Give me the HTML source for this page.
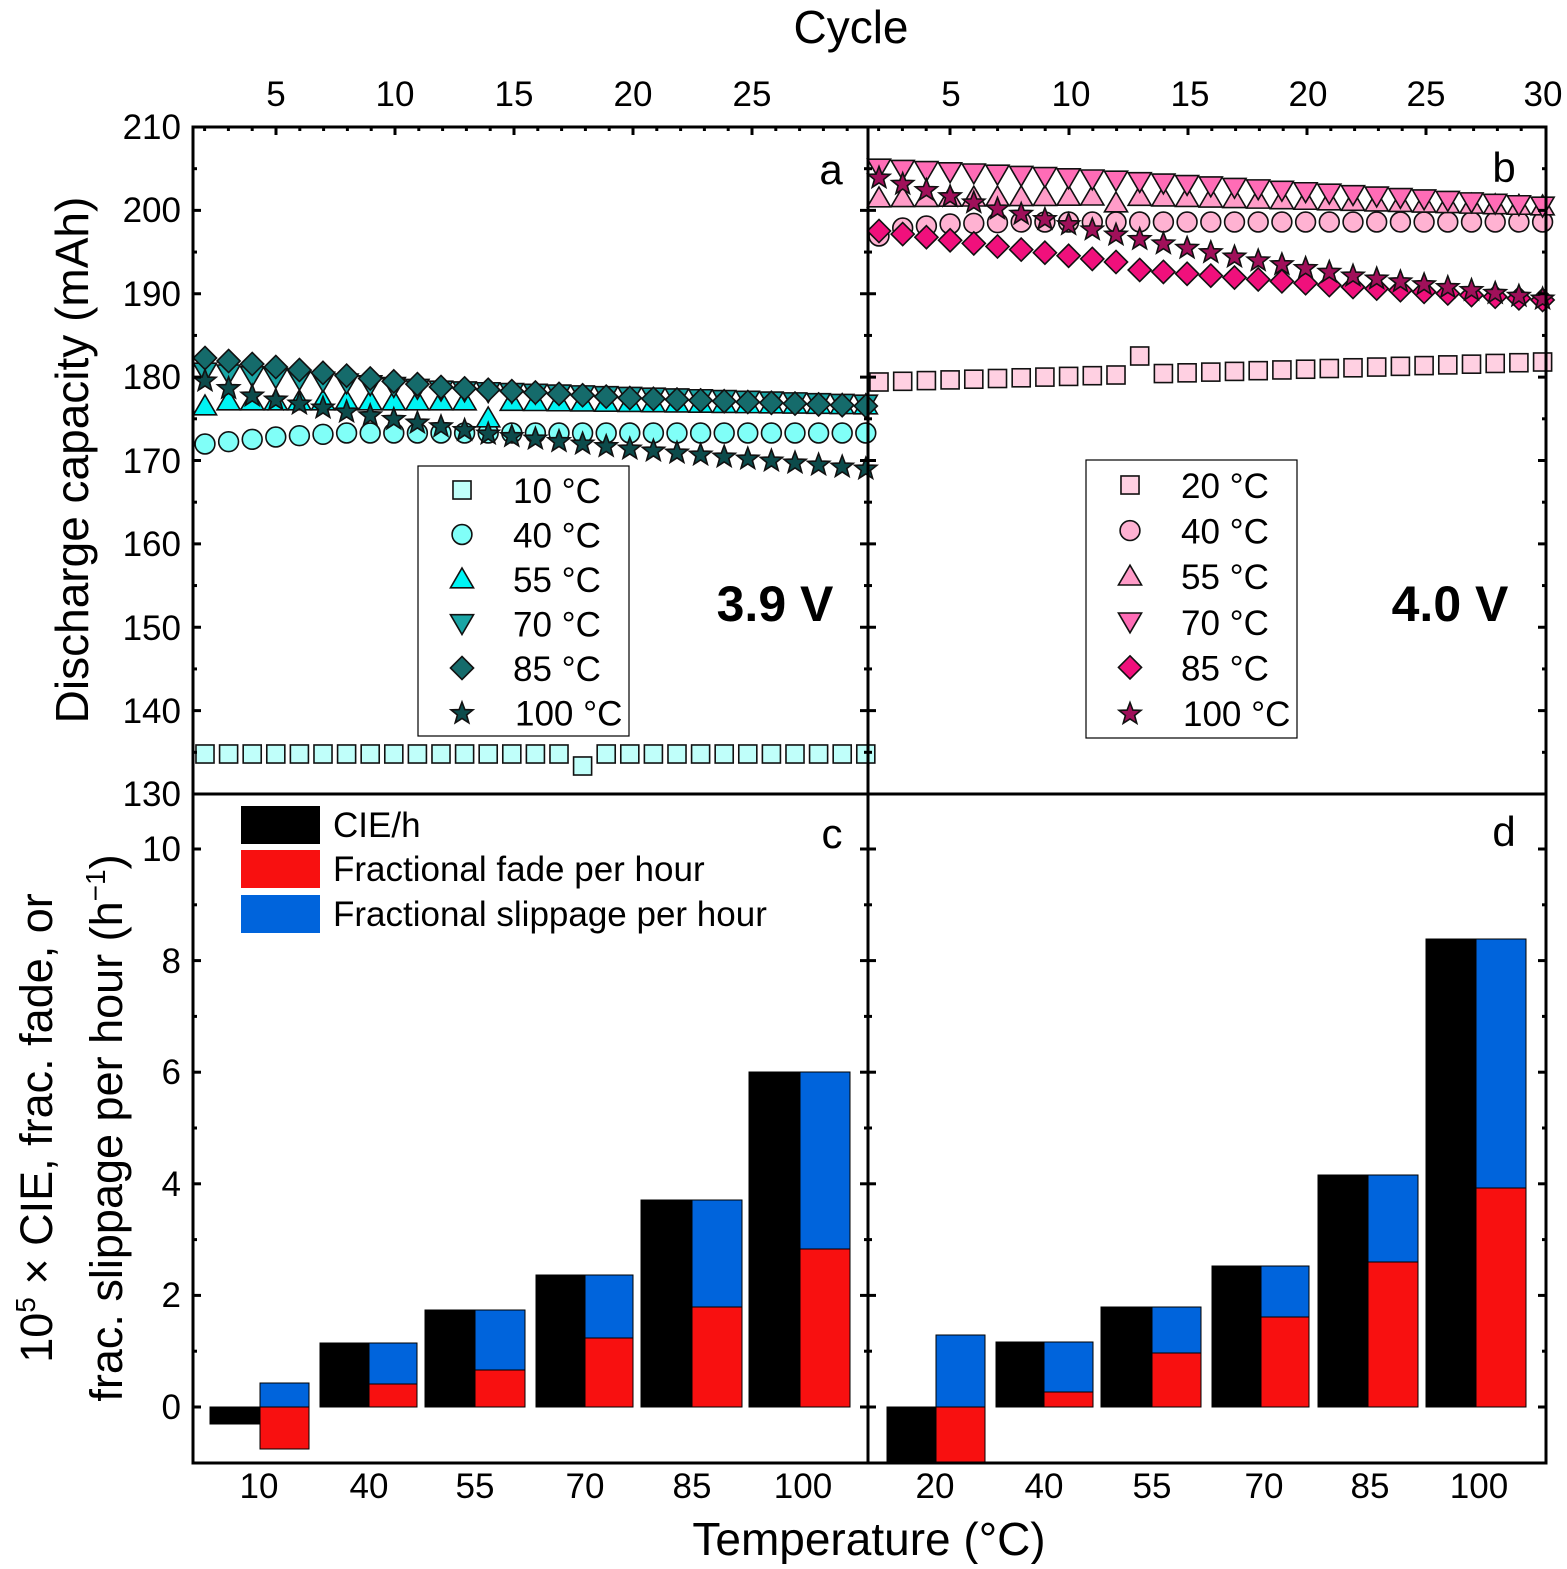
<!DOCTYPE html>
<html><head><meta charset="utf-8"><style>
html,body{margin:0;padding:0;background:#fff}
svg text{font-family:"Liberation Sans",sans-serif;fill:#000}
</style></head><body>
<svg id="s" width="1567" height="1564" viewBox="0 0 1567 1564" xmlns="http://www.w3.org/2000/svg">
<g id="data"></g>
<g id="axes" fill="none" stroke="#000" stroke-width="3">
<rect x="193" y="127" width="1353" height="1336"/>
<line x1="868" y1="127" x2="868" y2="1463"/>
<line x1="193" y1="794" x2="1546" y2="794"/>
</g>
<g id="ticks" stroke="#000" stroke-width="3"></g>
<g font-size="35" text-anchor="middle">
<text x="276" y="106">5</text><text x="395" y="106">10</text><text x="514" y="106">15</text><text x="633" y="106">20</text><text x="752" y="106">25</text>
<text x="951" y="106">5</text><text x="1071" y="106">10</text><text x="1190" y="106">15</text><text x="1308" y="106">20</text><text x="1426" y="106">25</text><text x="1543" y="106">30</text>
<text x="851" y="43" font-size="46">Cycle</text>
</g>
<g font-size="35" text-anchor="end">
<text x="181" y="139">210</text><text x="181" y="222">200</text><text x="181" y="306">190</text><text x="181" y="389">180</text><text x="181" y="473">170</text><text x="181" y="556">160</text><text x="181" y="640">150</text><text x="181" y="723">140</text><text x="181" y="806">130</text>
<text x="181" y="861">10</text><text x="181" y="973">8</text><text x="181" y="1084">6</text><text x="181" y="1196">4</text><text x="181" y="1307">2</text><text x="181" y="1419">0</text>
</g>
<g font-size="35" text-anchor="middle">
<text x="259" y="1498">10</text><text x="369" y="1498">40</text><text x="475" y="1498">55</text><text x="585" y="1498">70</text><text x="692" y="1498">85</text><text x="803" y="1498">100</text>
<text x="935" y="1498">20</text><text x="1044" y="1498">40</text><text x="1152" y="1498">55</text><text x="1264" y="1498">70</text><text x="1370" y="1498">85</text><text x="1479" y="1498">100</text>
<text x="869" y="1555" font-size="46">Temperature (°C)</text>
</g>
<text transform="translate(88,460) rotate(-90)" font-size="46" text-anchor="middle">Discharge capacity (mAh)</text>
<text transform="translate(52,1128) rotate(-90)" font-size="45" text-anchor="middle">10<tspan dy="-17" font-size="28">5</tspan><tspan dy="17"> × CIE, frac. fade, or</tspan></text>
<text transform="translate(122,1128) rotate(-90)" font-size="45" text-anchor="middle">frac. slippage per hour (h<tspan dy="-17" font-size="28">−1</tspan><tspan dy="17">)</tspan></text>
<g font-size="42" text-anchor="middle">
<text x="831" y="184">a</text><text x="1504" y="182">b</text><text x="832" y="848">c</text><text x="1504" y="846">d</text>
</g>
<g font-size="50" font-weight="bold" text-anchor="middle">
<text x="775" y="621">3.9 V</text><text x="1450" y="621">4.0 V</text>
</g>
<rect x="418" y="466" width="211" height="270" fill="#fff" stroke="#000" stroke-width="1.2"/>
<rect x="1086" y="460" width="211" height="278" fill="#fff" stroke="#000" stroke-width="1.2"/>
<g id="leg" font-size="35"></g>
<g>
<rect x="241" y="806" width="79" height="38" fill="#000"/>
<rect x="241" y="850" width="79" height="38" fill="#f81010"/>
<rect x="241" y="895" width="79" height="38" fill="#0064dc"/>
<text x="333" y="837" font-size="35">CIE/h</text>
<text x="333" y="881" font-size="35">Fractional fade per hour</text>
<text x="333" y="926" font-size="35">Fractional slippage per hour</text>
</g>
</svg>
<script>
const NS="http://www.w3.org/2000/svg";
const D=document.getElementById("data"),T=document.getElementById("ticks"),L=document.getElementById("leg");
function el(p,n,a){const e=document.createElementNS(NS,n);for(const k in a)e.setAttribute(k,a[k]);p.appendChild(e);return e;}
function starPts(cx,cy,R){let s="";for(let i=0;i<10;i++){const r=i%2?R*0.42:R;const a=-Math.PI/2+i*Math.PI/5;s+=(cx+r*Math.cos(a)).toFixed(1)+","+(cy+r*Math.sin(a)).toFixed(1)+" ";}return s;}
function mk(p,type,x,y,c,sz){const st={fill:c,stroke:"#111","stroke-width":1.6};
 const r=sz/2;
 if(type=="sq")el(p,"rect",Object.assign({x:x-r*0.82,y:y-r*0.82,width:r*1.64,height:r*1.64},st));
 else if(type=="ci")el(p,"circle",Object.assign({cx:x,cy:y,r:r*0.9},st));
 else if(type=="up")el(p,"polygon",Object.assign({points:`${x},${y-r} ${x+r*1.05},${y+r*0.8} ${x-r*1.05},${y+r*0.8}`},st));
 else if(type=="dn")el(p,"polygon",Object.assign({points:`${x},${y+r} ${x+r*1.05},${y-r*0.8} ${x-r*1.05},${y-r*0.8}`},st));
 else if(type=="di")el(p,"polygon",Object.assign({points:`${x},${y-r*1.05} ${x+r*1.05},${y} ${x},${y+r*1.05} ${x-r*1.05},${y}`},st));
 else if(type=="st")el(p,"polygon",Object.assign({points:starPts(x,y+1,r*1.05)},st));
}
function interp(kp,n){const out=[];for(let i=0;i<n;i++){let j=0;while(j<kp.length-2&&kp[j+1][0]<=i)j++;const [a,ya]=kp[j],[b,yb]=kp[j+1];out.push(ya+(yb-ya)*Math.min(1,Math.max(0,(i-a)/(b-a))));}return out;}
const N=29;
const ca=["#c0fffa","#80fff8","#00f4f4","#1aa5a5","#156b6b","#0c4b4b"];
const cb=["#ffd0e2","#ffb2d2","#ff9cc8","#ff6cb6","#f0107c","#a0105a"];
const types=["sq","ci","up","dn","di","st"];
let sa=[interp([[0,754],[28,754]],N),interp([[0,444],[3,437],[6,433],[28,433]],N),interp([[0,406],[1,401],[11,401],[28,405]],N),interp([[0,372],[10,390],[28,404]],N),interp([[0,358],[4,370],[10,387],[18,398],[28,406]],N),interp([[0,380],[2,395],[6,411],[12,433],[18,448],[28,468]],N)];
sa[0][16]=766; sa[2][12]=418;
let sb=[interp([[0,382],[10,375],[28,362]],N),interp([[0,236],[1,228],[3,224],[6,222],[28,222]],N),interp([[0,198],[10,196],[28,206]],N),interp([[0,168],[10,180],[28,206]],N),interp([[0,231],[10,262],[11,270],[20,287],[28,300]],N),interp([[0,177],[5,208],[10,234],[15,256],[20,275],[28,298]],N)];
sb[0][11]=356; sb[2][10]=203;
const gA=el(D,"g",{});const gB=el(D,"g",{});
for(let s=0;s<6;s++)for(let i=0;i<N;i++){mk(gA,types[s],205+i*23.6,sa[s][i],ca[s],22);mk(gB,types[s],879+i*23.7,sb[s][i],cb[s],22);}
const la=["10 °C","40 °C","55 °C","70 °C","85 °C","100 °C"];
const lb=["20 °C","40 °C","55 °C","70 °C","85 °C","100 °C"];
for(let s=0;s<6;s++){const ya=490+s*44.5,yb=485+s*45.6;
 mk(L,types[s],462,ya,ca[s],22);mk(L,types[s],1130,yb,cb[s],22);
 const t1=el(L,"text",{x:s==5?515:513,y:ya+13});t1.textContent=la[s];
 const t2=el(L,"text",{x:s==5?1183:1181,y:yb+13});t2.textContent=lb[s];}
const g=el(D,"g",{stroke:"#000","stroke-width":1});
function bar(x1,x2,y1,y2,c){el(g,"rect",{x:x1,y:Math.min(y1,y2),width:x2-x1,height:Math.abs(y2-y1),fill:c});}
const Z=1407;
const bars=[[210,260,309,1424,1383,1449],[320,369,417,1343,1343,1384],[425,475,525,1310,1310,1370],[536,585,633,1275,1275,1338],[641,692,742,1200,1200,1307],[749,800,850,1072,1072,1249],
[887,936,985,1463,1335,1463],[996,1044,1093,1342,1342,1392],[1101,1152,1201,1307,1307,1353],[1212,1261,1309,1266,1266,1317],[1318,1368,1418,1175,1175,1262],[1426,1476,1526,939,939,1188]];
for(const b of bars){bar(b[0],b[1],Z,b[3],"#000");bar(b[1],b[2],Z,b[4],"#0064dc");bar(b[1],b[2],Z,b[5],"#f81010");}
function ln(x1,y1,x2,y2){el(T,"line",{x1,y1,x2,y2});}
for(let c=1;c<=29;c++){const x=157+23.8*c;if(x>195&&x<866){const l=c%5?4:8;ln(x,127,x,127+l);}}
for(let c=2;c<=30;c++){const x=831+23.8*c;if(x>870&&x<1544){const l=c%5?4:8;ln(x,127,x,127+l);}}
for(let v=135;v<210;v+=5){const y=127+(210-v)*8.3375;const l=v%10?4:8;ln(193,y,193+l,y);ln(868,y,868-l,y);ln(868,y,868+l,y);ln(1546,y,1546-l,y);}
for(let v=-1;v<=10;v++){const y=1407-v*55.8;if(y<800||y>1460)continue;const l=v%2?4:8;ln(193,y,193+l,y);ln(868,y,868-l,y);ln(868,y,868+l,y);ln(1546,y,1546-l,y);}
</script>
</body></html>
